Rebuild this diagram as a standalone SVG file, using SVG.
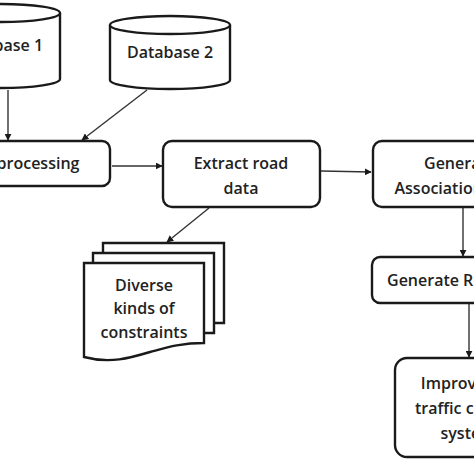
<svg xmlns="http://www.w3.org/2000/svg" width="474" height="474" viewBox="0 0 474 474">
<defs>
<marker id="ah" viewBox="0 0 10 10" refX="9" refY="5" markerWidth="7" markerHeight="7" markerUnits="userSpaceOnUse" orient="auto">
<path d="M0,0 L10,5 L0,10 Z" fill="#1a1a1a"/>
</marker>
</defs>
<style>
.shape{fill:#fff;stroke:#1a1a1a;stroke-width:2.4}
.conn{fill:none;stroke:#333;stroke-width:1.4;marker-end:url(#ah)}
text{font-family:"Open Sans","Liberation Sans",sans-serif;font-weight:600;font-size:16px;fill:#222;text-anchor:middle}
</style>
<rect width="474" height="474" fill="#fff"/>
<g id="connectors">
<line class="conn" x1="8" y1="90" x2="8" y2="140"/>
<line class="conn" x1="147" y1="90" x2="82" y2="140"/>
<line class="conn" x1="112" y1="166" x2="162" y2="166"/>
<line class="conn" x1="321" y1="171" x2="371" y2="172"/>
<line class="conn" x1="209" y1="208" x2="167" y2="242"/>
<line class="conn" x1="463" y1="208" x2="463" y2="256"/>
<line class="conn" x1="469" y1="304" x2="469" y2="357"/>
</g>
<g id="database1">
<path class="shape" d="M-58,13 V79 A59,9 0 0 0 60,79 V13"/>
<ellipse class="shape" cx="1" cy="13" rx="59" ry="9"/>
<text x="0" y="51">Database 1</text>
</g>
<g id="database2">
<path class="shape" d="M110,25 V80 A60,9 0 0 0 230,80 V25"/>
<ellipse class="shape" cx="170" cy="25" rx="60" ry="9"/>
<text x="170" y="58">Database 2</text>
</g>
<g id="preprocessing">
<rect class="shape" x="-50" y="141" width="160" height="45" rx="8"/>
<text x="25" y="169">Preprocessing</text>
</g>
<g id="extract">
<rect class="shape" x="163" y="141" width="157" height="66" rx="9"/>
<text x="241" y="169">Extract road</text>
<text x="241" y="194">data</text>
</g>
<g id="association">
<rect class="shape" x="373" y="141" width="174" height="66" rx="9"/>
<text x="460" y="169">Generate</text>
<text x="460" y="194">Association rules</text>
</g>
<g id="generate2">
<rect class="shape" x="372" y="257" width="150" height="46" rx="8"/>
<text x="446" y="286">Generate Rules</text>
</g>
<g id="improve">
<rect class="shape" x="395" y="358" width="146" height="99" rx="12"/>
<text x="468" y="389">Improve the</text>
<text x="468" y="414">traffic control</text>
<text x="468" y="439">system</text>
</g>
<g id="constraints">
<path class="shape" d="M103,253 V243 H224 V323 H214"/>
<path class="shape" d="M93,263 V253 H214 V333 H204"/>
<path class="shape" d="M84,263 H204 V343 C180,343 165,348 150,352 C130,358 110,364 84,357 Z"/>
<text x="144" y="291">Diverse</text>
<text x="144" y="314">kinds of</text>
<text x="144" y="338">constraints</text>
</g>
</svg>
